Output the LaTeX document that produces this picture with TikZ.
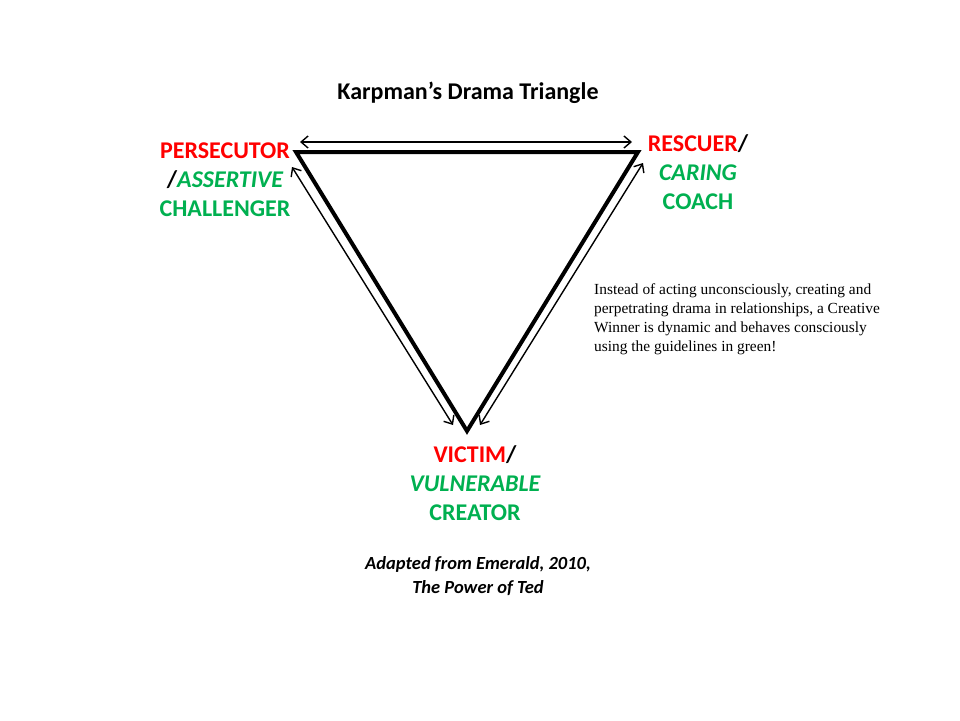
\documentclass[tikz,border=0pt]{standalone}
\usepackage{fontspec}
\setmainfont{Carlito}
\newfontfamily\serifp{Liberation Serif}
\definecolor{myred}{RGB}{255,0,0}
\definecolor{mygreen}{RGB}{0,176,80}
\begin{document}
\begin{tikzpicture}[x=1pt,y=-1pt,
  lbl/.style={font=\fontsize{24}{29}\selectfont\bfseries,align=center},
  thin arrow/.style={<->,>={Straight Barb[length=7pt,width=12pt]},line width=1.4pt},
  tri/.style={line width=4pt,line join=miter}]
\usetikzlibrary{arrows.meta}
\useasboundingbox (0,0) rectangle (960,720);
\coordinate (TL) at (296,152);
\coordinate (TR) at (638,152);
\coordinate (B) at (467,431);
\draw[tri] (TL) -- (TR) -- (B) -- cycle;
\coordinate (a1) at (300,142); \coordinate (a2) at (632,142);
\coordinate (l1) at (292,167); \coordinate (l2) at (453,425);
\coordinate (r1) at (643,163); \coordinate (r2) at (480,425);
\draw[thin arrow] (a1) -- (a2);
\draw[thin arrow] (l1) -- (l2);
\draw[thin arrow] (r1) -- (r2);
\node[lbl] (title) at (468,93) {Karpman’s Drama Triangle};
\node[lbl] (p) at (225,180) {\textcolor{myred}{PERSECUTOR}\\\textcolor{black}{/}\textcolor{mygreen}{\itshape ASSERTIVE}\\\textcolor{mygreen}{CHALLENGER}};
\node[lbl] (r) at (698,172) {\textcolor{myred}{RESCUER}/\\\textcolor{mygreen}{\itshape CARING}\\\textcolor{mygreen}{COACH}};
\node[lbl] (v) at (475,483) {\textcolor{myred}{VICTIM}/\\\textcolor{mygreen}{\itshape VULNERABLE}\\\textcolor{mygreen}{CREATOR}};
\node[font=\fontsize{18.5}{24}\selectfont\bfseries\itshape,align=center] (src) at (478,576) {Adapted from Emerald, 2010,\\The Power of Ted};
\node[font=\serifp\fontsize{15.4}{19.3}\selectfont,align=left,anchor=north west,inner sep=0pt] (txt) at (594,283) {Instead of acting unconsciously, creating and\\perpetrating drama in relationships, a Creative\\Winner is dynamic and behaves consciously\\using the guidelines in green!};
\end{tikzpicture}
\end{document}
